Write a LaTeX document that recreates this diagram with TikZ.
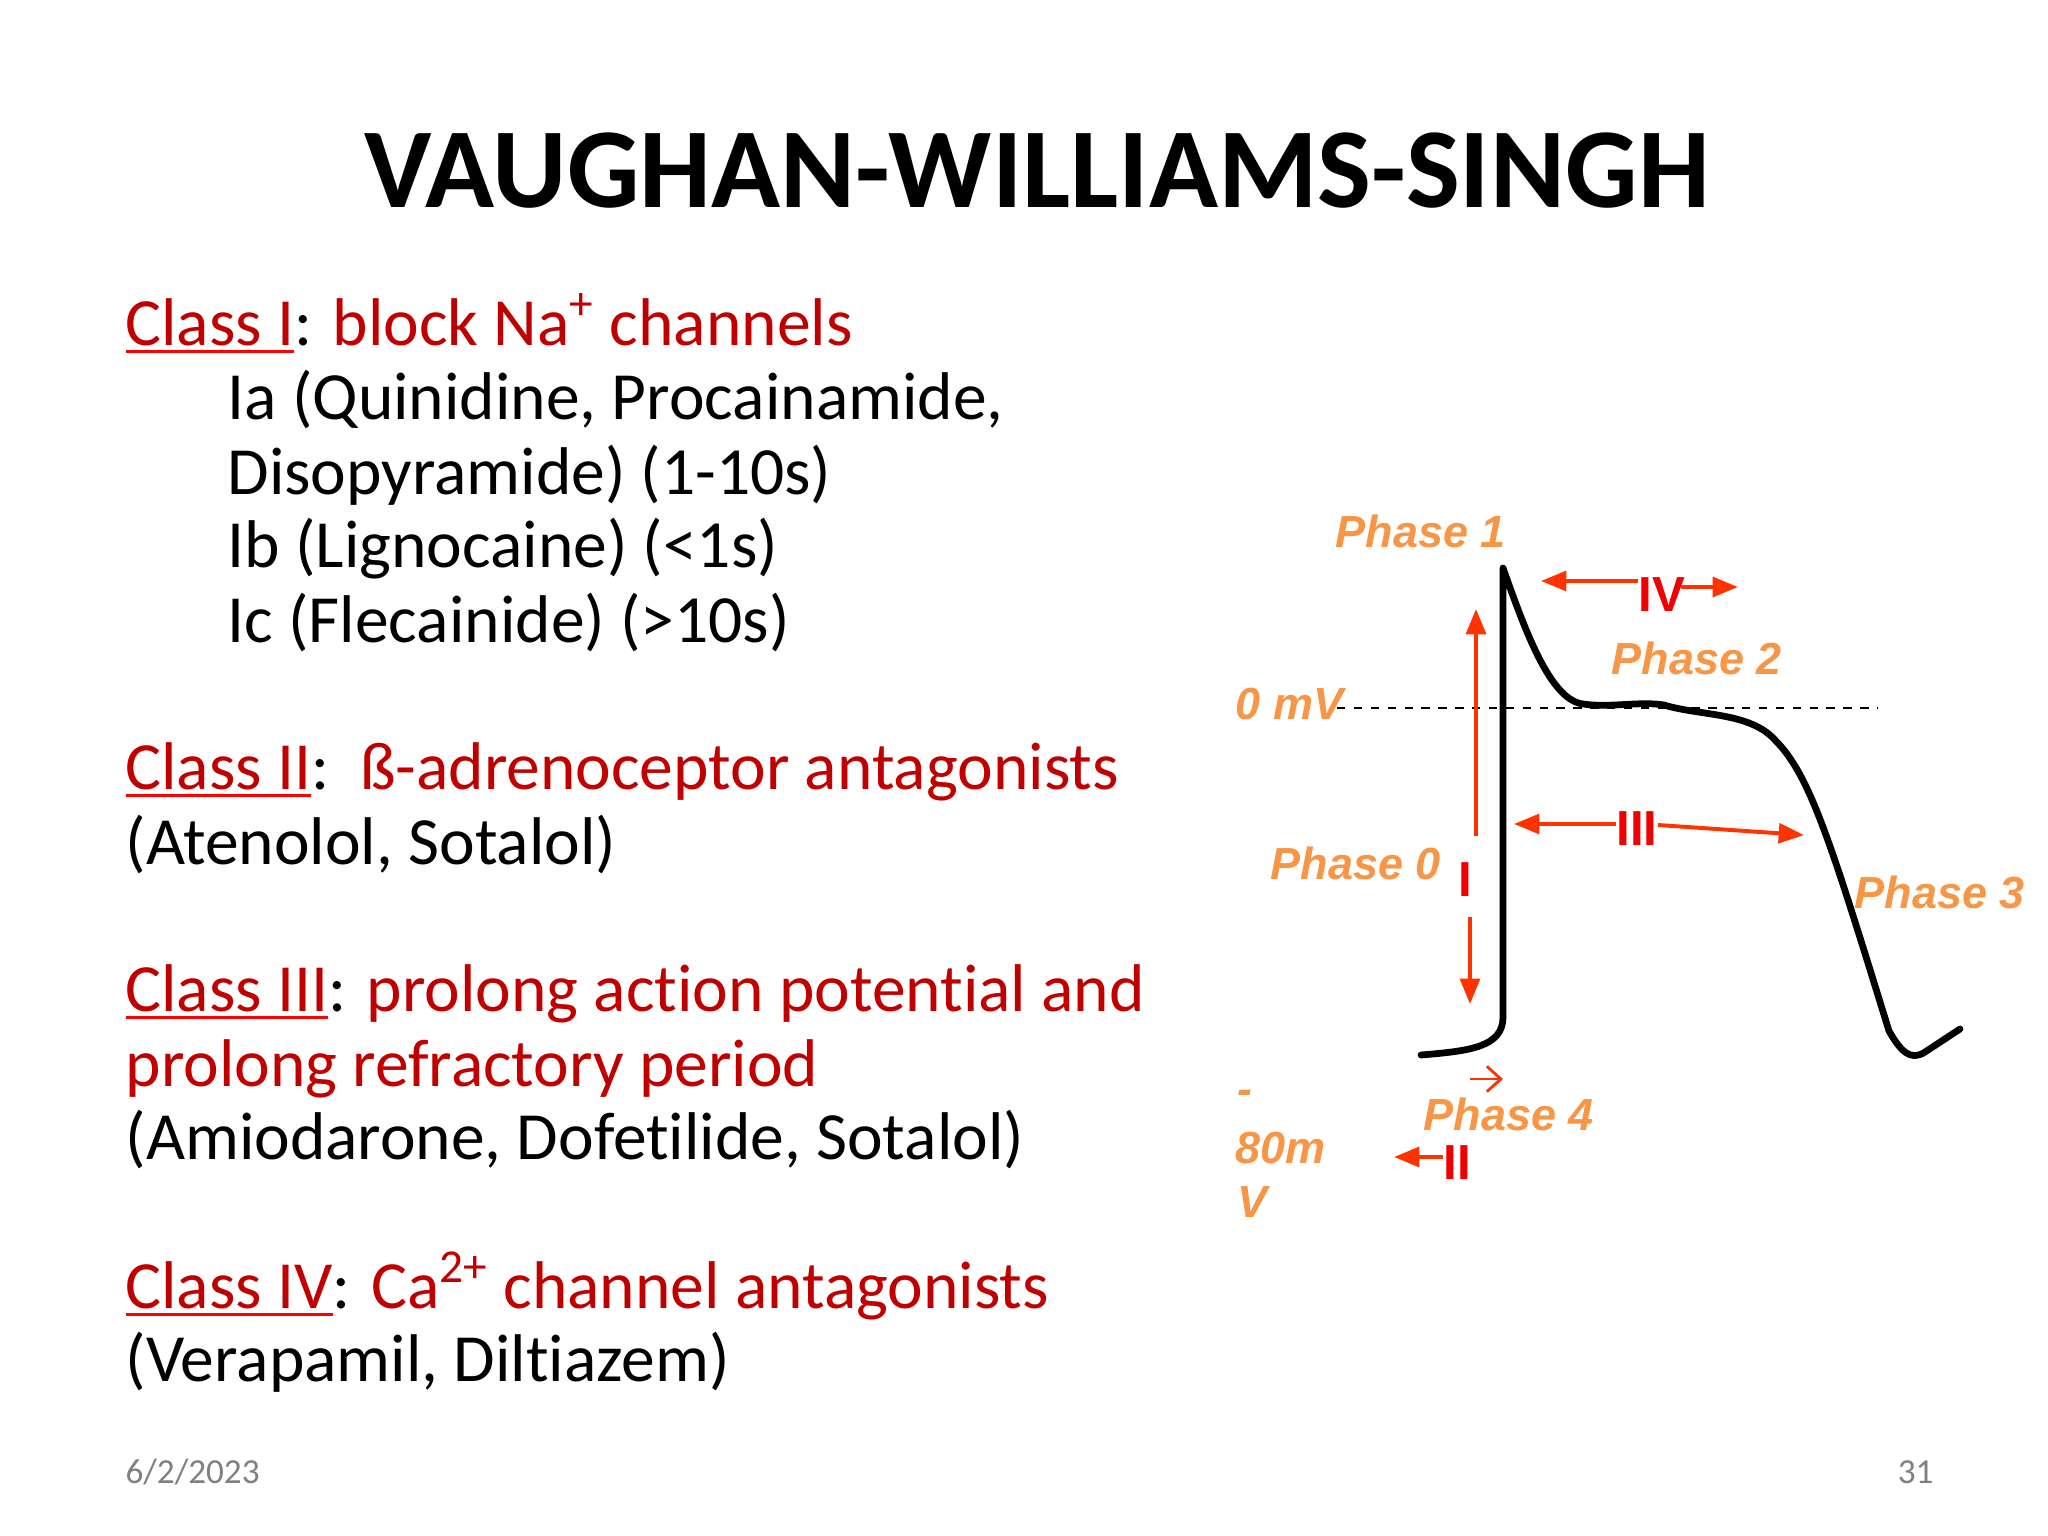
\documentclass[tikz,border=0pt]{standalone}
\usepackage{fontspec}
\setmainfont{Carlito}[Ligatures=NoCommon]
\newfontfamily\arialf{Liberation Sans}
\usetikzlibrary{arrows.meta}
\definecolor{dred}{RGB}{192,0,0}
\definecolor{phor}{RGB}{247,150,70}
\definecolor{arr}{RGB}{255,51,0}
\definecolor{rn}{RGB}{240,0,0}
\newcommand{\ul}[1]{\setbox0\hbox{#1}\rlap{\textcolor{red}{\rule[-3pt]{\wd0}{1.2pt}}}\box0}
\begin{document}
\begin{tikzpicture}[x=0.0125cm,y=-0.0125cm,
  body/.style={anchor=base west,inner sep=0pt,font=\fontsize{24}{27}\selectfont},
  phase/.style={text=phor,font=\arialf\bfseries\itshape\fontsize{16}{19}\selectfont,inner sep=0pt},
  roman/.style={text=rn,font=\arialf\bfseries\fontsize{17.5}{20}\selectfont,inner sep=0pt},
  rarr/.style={draw=arr,line width=1.4pt,-{Triangle[length=9pt,width=7pt]}},
  curve/.style={line width=2.4pt,line cap=round,line join=round}]
\useasboundingbox (0,0) rectangle (2048,1536);
\node[font=\bfseries\fontsize{40.5}{44}\selectfont,inner sep=0pt] (title) at (1037,171) {VAUGHAN-WILLIAMS-SINGH};
\node[body] (c1) at (125,345) {\textcolor{dred}{\ul{Class I}}: \textcolor{dred}{block Na\textsuperscript{+} channels}};
\node[body] (c1a) at (227,419) {Ia (Quinidine, Procainamide,};
\node[body] (c1b) at (227,494) {Disopyramide) (1-10s)};
\node[body] (c1c) at (227,567) {Ib (Lignocaine) (<1s)};
\node[body] (c1d) at (227,642) {Ic (Flecainide) (>10s)};
\node[body] (c2) at (125,789) {\textcolor{dred}{\ul{Class II}}:\ \ \textcolor{dred}{ß-adrenoceptor antagonists}};
\node[body] (c2a) at (125,864) {(Atenolol, Sotalol)};
\node[body] (c3) at (125,1011) {\textcolor{dred}{\ul{Class III}}: \textcolor{dred}{prolong action potential and}};
\node[body] (c3a) at (125,1086) {\textcolor{dred}{prolong refractory period}};
\node[body] (c3b) at (125,1159) {(Amiodarone, Dofetilide, Sotalol)};
\node[body] (c4) at (125,1308) {\textcolor{dred}{\ul{Class IV}}: \textcolor{dred}{Ca\textsuperscript{2+} channel antagonists}};
\node[body] (c4a) at (125,1381) {(Verapamil, Diltiazem)};
\node[anchor=base west,inner sep=0pt,text=gray,font=\fontsize{12.5}{14}\selectfont] (date) at (125,1483) {6/2/2023};
\node[anchor=base east,inner sep=0pt,text=gray,font=\fontsize{12.5}{14}\selectfont] (pg) at (1934,1483) {31};
% diagram
\coordinate (d0) at (1337,708); \coordinate (d1) at (1878,708);
\draw[dashed,line width=0.8pt] (d0) -- (d1);
\draw[curve] (1421,1055) .. controls (1470,1051) and (1503,1047) .. (1503,1017) -- (1503,568)
  .. controls (1525,630) and (1550,700) .. (1583,704)
  .. controls (1610,708) and (1640,701) .. (1664,705)
  .. controls (1700,716) and (1750,712) .. (1775,740)
  .. controls (1810,775) and (1830,840) .. (1889,1031)
  .. controls (1900,1050) and (1910,1062) .. (1925,1052) -- (1960,1029);
\node[phase] (p1) at (1421,531) {Phase 1};
\node[phase] (p2) at (1697,658) {Phase 2};
\node[phase] (p0) at (1356,863) {Phase 0};
\node[phase] (p3) at (1940,892) {Phase 3};
\node[phase] (p4) at (1509,1114) {Phase 4};
\node[phase,anchor=west] (zmv) at (1235,704) {0 mV};
\node[phase,anchor=west] (m1) at (1237,1097) {-};
\node[phase,anchor=west] (m2) at (1235,1148) {80m};
\node[phase,anchor=west] (m3) at (1237,1202) {V};
\node[roman] (rI) at (1465,880) {I};
\node[roman] (rII) at (1457,1163) {II};
\node[roman] (rIII) at (1637,829) {III};
\node[roman] (rIV) at (1662,595) {IV};
\coordinate (a1) at (1476,836); \coordinate (a1e) at (1476,609);
\coordinate (a2) at (1470,917); \coordinate (a2e) at (1470,1004);
\draw[rarr] (a1) -- (a1e);
\draw[rarr] (a2) -- (a2e);
\coordinate (iv1) at (1541,581); \coordinate (iv2) at (1738,587);
\draw[rarr] (rIV.west |- iv1) -- (iv1);
\draw[rarr] (1681,587) -- (iv2);
\coordinate (iii1) at (1514,824); \coordinate (iii2) at (1804,835);
\draw[rarr] (rIII.west |- iii1) -- (iii1);
\draw[rarr] (rIII.east |- 0,825) -- (iii2);
\coordinate (ii1) at (1394,1157);
\draw[rarr] (rII.west |- ii1) -- (ii1);
\coordinate (q1) at (1470,1079); \coordinate (q2) at (1503,1079);
\draw[draw=arr,line width=1pt,-{Straight Barb[length=5pt,width=9pt]}] (q1) -- (q2);
\end{tikzpicture}
\end{document}
